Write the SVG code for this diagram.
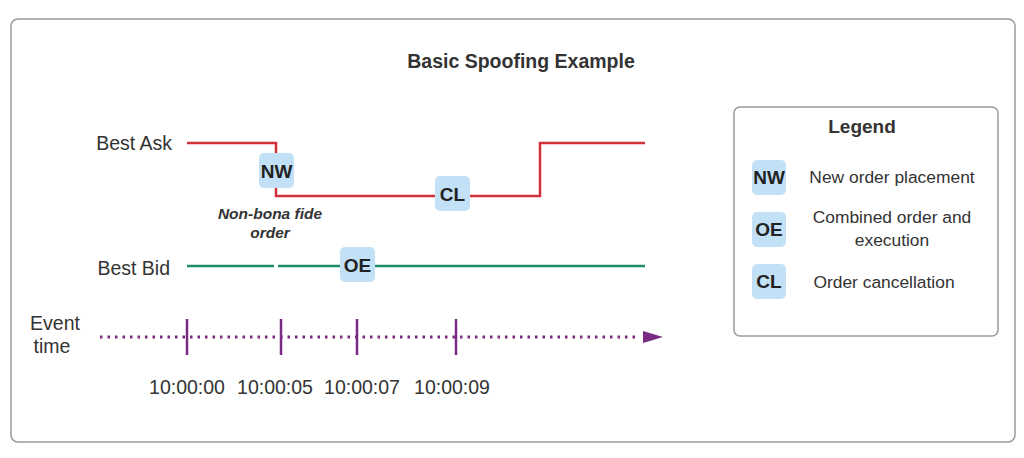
<svg xmlns="http://www.w3.org/2000/svg" width="1024" height="458" viewBox="0 0 1024 458">
<defs>
<style>
text{font-family:"Liberation Sans",Arial,sans-serif;fill:#333333}
.lbl{font-size:19.5px}
.leg{font-size:17.4px}
.bold{font-weight:bold}
.tag{fill:#c3e1f6;stroke:none}
.tagt{font-size:19px;font-weight:bold;fill:#222222;text-anchor:middle}
.frame{fill:#ffffff;stroke:#9a9a9a;stroke-width:1.5}
.ask{fill:none;stroke:#d0323a;stroke-width:2.5}
.bid{fill:none;stroke:#1f8a6c;stroke-width:2.5}
.axis{fill:none;stroke:#7a2a82;stroke-width:3;stroke-dasharray:2.5 5}
.tick{stroke:#7a2a82;stroke-width:2.5}
</style>
</defs>
<rect x="0" y="0" width="1024" height="458" fill="#ffffff"/>
<rect class="frame" x="11" y="19" width="1004" height="423" rx="7"/>
<text x="521" y="68" class="bold" font-size="19.5" text-anchor="middle">Basic Spoofing Example</text>
<text x="172" y="150" class="lbl" text-anchor="end">Best Ask</text>
<text x="170" y="275" class="lbl" text-anchor="end">Best Bid</text>
<text x="270" y="219" font-size="15.5" font-weight="bold" font-style="italic" text-anchor="middle">Non-bona fide</text>
<text x="270" y="238" font-size="15.5" font-weight="bold" font-style="italic" text-anchor="middle">order</text>
<text x="55" y="330" class="lbl" text-anchor="middle">Event</text>
<text x="52" y="353" class="lbl" text-anchor="middle">time</text>
<g id="connectors">
<path class="ask" d="M187,143 H276 V196 H540 V143 H645"/>
<path class="bid" d="M187,266 H274 M278,266 H645"/>
<path class="axis" d="M100,337 H640"/>
<path d="M643,331 L663,337 L643,343 Z" fill="#7a2a82"/>
<line class="tick" x1="187" y1="319" x2="187" y2="355"/>
<line class="tick" x1="281" y1="319" x2="281" y2="355"/>
<line class="tick" x1="357" y1="319" x2="357" y2="355"/>
<line class="tick" x1="456" y1="319" x2="456" y2="355"/>
</g>
<text x="187" y="394" class="lbl" text-anchor="middle">10:00:00</text>
<text x="275" y="394" class="lbl" text-anchor="middle">10:00:05</text>
<text x="362" y="394" class="lbl" text-anchor="middle">10:00:07</text>
<text x="452" y="394" class="lbl" text-anchor="middle">10:00:09</text>
<g id="nw-node"><rect class="tag" x="259" y="153" width="35" height="35" rx="5"/><text class="tagt" x="276.5" y="177.5">NW</text></g>
<g id="cl-node"><rect class="tag" x="435" y="176" width="35" height="35" rx="5"/><text class="tagt" x="452.5" y="200.5">CL</text></g>
<g id="oe-node"><rect class="tag" x="340" y="247" width="35" height="35" rx="5"/><text class="tagt" x="357.5" y="271.5">OE</text></g>
<g id="legend">
<rect class="frame" x="734" y="107" width="264" height="229" rx="6"/>
<text x="862" y="133" class="bold" font-size="19" text-anchor="middle">Legend</text>
<rect class="tag" x="752" y="160" width="34" height="35" rx="5"/><text class="tagt" x="769" y="184">NW</text>
<rect class="tag" x="752" y="212" width="34" height="35" rx="5"/><text class="tagt" x="769" y="236">OE</text>
<rect class="tag" x="752" y="264" width="34" height="35" rx="5"/><text class="tagt" x="769" y="288">CL</text>
<text x="892" y="183" class="leg" text-anchor="middle">New order placement</text>
<text x="892" y="223" class="leg" text-anchor="middle">Combined order and</text>
<text x="892" y="246" class="leg" text-anchor="middle">execution</text>
<text x="884" y="288" class="leg" text-anchor="middle">Order cancellation</text>
</g>
</svg>
